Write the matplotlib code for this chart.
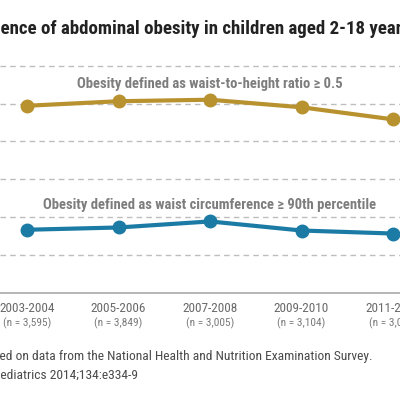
import matplotlib
matplotlib.use('Agg')
import matplotlib.pyplot as plt
from matplotlib import font_manager as fm
import matplotlib.transforms as mtransforms

# ---------------- data ----------------
periods = ['2003-2004', '2005-2006', '2007-2008', '2009-2010', '2011-2012']
sample_n = ['(n = 3,595)', '(n = 3,849)', '(n = 3,005)', '(n = 3,104)', '(n = 3,048)']
whtr = [34.7, 35.3, 35.5, 34.5, 32.9]
wc = [18.3, 18.6, 19.4, 18.2, 17.8]
yticks = [15, 20, 25, 30, 35, 40]
title = 'Prevalence of abdominal obesity in children aged 2-18 years'
label_whtr = 'Obesity defined as waist-to-height ratio \u2265 0.5'
label_wc = 'Obesity defined as waist circumference \u2265 90th percentile'
note = 'Note: Based on data from the National Health and Nutrition Examination Survey.'
source = 'Source: Pediatrics 2014;134:e334-9'

GOLD = '#B8922F'
BLUE = '#1B7BA5'

names = {f.name for f in fm.fontManager.ttflist}
COND = 'DejaVu Sans'
for cand in ['Liberation Sans Narrow', 'Roboto Condensed', 'Open Sans Condensed', 'DejaVu Sans']:
    if cand in names:
        COND = cand
        break

W = H = 400
fig = plt.figure(figsize=(4, 4), dpi=100)
fig.patch.set_facecolor('white')

# axes: y=10 at 292.5 px from top, 7.56 px per unit
ymin, ymax = 10, 41.5
ppu = 7.56
bottom_px = 292.5
ax_h = (ymax - ymin) * ppu
# x: index 0 at 27px, index 4 at 393px
xppu = (393 - 27) / 4.0
xl = (0 - 27) / xppu
xr = (W - 27) / xppu
ax = fig.add_axes([0, (H - bottom_px) / H, 1, ax_h / H])
ax.set_xlim(xl, xr)
ax.set_ylim(ymin, ymax)
ax.set_yticks(yticks)
ax.set_xticks([])
ax.tick_params(length=0, labelleft=False)
for s in ['top', 'left', 'right']:
    ax.spines[s].set_visible(False)
ax.spines['bottom'].set_color('#b0b0b0')
ax.spines['bottom'].set_linewidth(1.3)
ax.grid(axis='y', linestyle=(0, (4, 3)), color='#bdbdbd', linewidth=1.0)
ax.set_axisbelow(True)
ax.patch.set_alpha(0)

x = list(range(len(periods)))
ax.plot(x, whtr, color=GOLD, lw=3.0, marker='o', ms=9, clip_on=False, zorder=3)
ax.plot(x, wc, color=BLUE, lw=3.0, marker='o', ms=9, clip_on=False, zorder=3)

renderer = fig.canvas.get_renderer()


def width_of(s, **kw):
    t = fig.text(0, 0, s, **kw)
    w = t.get_window_extent(renderer).width
    t.remove()
    return w


def fit_size(s, target, base=10, **kw):
    w = width_of(s, fontsize=base, **kw)
    return base * target / w


def fy(px):
    return 1 - px / H

# title (clipped on both sides in the reference)
tkw = dict(family=COND, weight='bold')
vis = title[6:-2]
ts = fit_size(vis, 397, **tkw)
pw = width_of(title[:6], fontsize=ts, **tkw)
fig.text((1 - pw) / W, fy(34.5), title, fontsize=ts, color='#222222', ha='left', va='baseline', **tkw)

# series labels
akw = dict(family=COND, weight='bold')
s1 = fit_size(label_whtr, 265, **akw)
s2 = fit_size(label_wc, 335, **akw)
asz = (s1 + s2) / 2
ax.text(2, 0, label_whtr, transform=mtransforms.blended_transform_factory(ax.transData, fig.transFigure),
        fontsize=asz, color='#7d7d7d', ha='center', va='baseline', **akw)
ax.texts[-1].set_y(fy(88.3))
ax.text(2, 0, label_wc, transform=mtransforms.blended_transform_factory(ax.transData, fig.transFigure),
        fontsize=asz, color='#7d7d7d', ha='center', va='baseline', **akw)
ax.texts[-1].set_y(fy(209))

# x labels
xkw = dict(family=COND)
psz = fit_size(periods[1], 55, **xkw)
nsz = fit_size(sample_n[1], 48, **xkw)
bt = mtransforms.blended_transform_factory(ax.transData, fig.transFigure)
for i, (p, n) in enumerate(zip(periods, sample_n)):
    ax.text(i, fy(312.3), p, transform=bt, fontsize=psz, color='#6a6a6a', ha='center', va='baseline', clip_on=False, **xkw)
    ax.text(i, fy(326.7), n, transform=bt, fontsize=nsz, color='#7a7a7a', ha='center', va='baseline', clip_on=False, **xkw)

# footer (clipped on the left)
fkw = dict(family=COND)
fsz = fit_size(note[9:], 371, **fkw)
pw1 = width_of(note[:9], fontsize=fsz, **fkw)
pw2 = width_of(source[:9], fontsize=fsz, **fkw)
fig.text((0 - pw1) / W, fy(360), note, fontsize=fsz, color='#4a4a4a', ha='left', va='baseline', **fkw)
fig.text((0 - pw2) / W, fy(378.7), source, fontsize=fsz, color='#4a4a4a', ha='left', va='baseline', **fkw)

fig.savefig('out.png', dpi=100, facecolor='white')
